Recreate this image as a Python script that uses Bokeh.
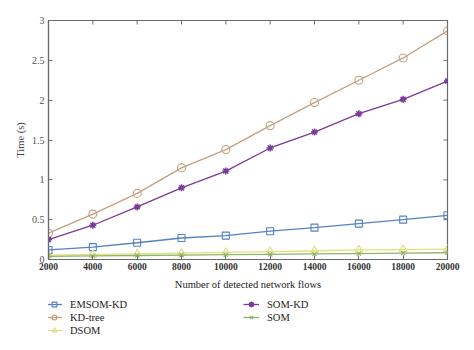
import math
from bokeh.plotting import figure
from bokeh.layouts import column
from bokeh.models import Legend, LegendItem, FixedTicker, Range1d
from bokeh.embed import file_html
from bokeh.resources import INLINE

flows = [2000, 4000, 6000, 8000, 10000, 12000, 14000, 16000, 18000, 20000]
emsom_kd = [0.12, 0.155, 0.21, 0.27, 0.30, 0.355, 0.40, 0.45, 0.50, 0.555]
kd_tree = [0.33, 0.57, 0.83, 1.15, 1.38, 1.68, 1.97, 2.25, 2.53, 2.87]
dsom = [0.055, 0.065, 0.07, 0.08, 0.09, 0.10, 0.11, 0.12, 0.125, 0.13]
som_kd = [0.25, 0.43, 0.66, 0.90, 1.11, 1.40, 1.60, 1.83, 2.01, 2.24]
som = [0.04, 0.045, 0.05, 0.055, 0.06, 0.065, 0.07, 0.075, 0.08, 0.085]

y_ticks = [0, 0.5, 1, 1.5, 2, 2.5, 3]
y_tick_labels = ["0", "0.5", "1", "1.5", "2", "2.5", "3"]
x_ticks = flows
x_min, x_max = 2000, 20000
y_min, y_max = 0, 3

FONT = "Liberation Serif"
FRAME = "#6a6a6a"

p = figure(width=474, height=292, output_backend="svg", toolbar_location=None,
           x_range=Range1d(x_min, x_max), y_range=Range1d(y_min, y_max),
           min_border_left=48, min_border_right=27, min_border_top=20,
           min_border_bottom=33)
p.xgrid.visible = False
p.ygrid.visible = False
p.outline_line_color = FRAME
p.outline_line_width = 1.2
p.background_fill_color = "white"
p.border_fill_color = "white"

def style_axis(ax):
    ax.axis_line_color = FRAME
    ax.axis_line_width = 1.2
    ax.major_tick_in = 4
    ax.major_tick_out = 0
    ax.minor_tick_in = 0
    ax.minor_tick_out = 0
    ax.major_tick_line_color = FRAME
    ax.major_label_text_font = FONT
    ax.major_label_text_color = "#333333"

# bottom axis
xa = p.xaxis[0]
xa.ticker = FixedTicker(ticks=x_ticks)
style_axis(xa)
xa.major_label_text_font_size = "9.5px"
xa.major_label_text_font_style = "bold"
xa.major_label_standoff = 3
xa.axis_label = "Number of detected network flows"
xa.axis_label_text_font = FONT
xa.axis_label_text_font_size = "10.5px"
xa.axis_label_text_font_style = "normal"
xa.axis_label_text_color = "#222222"
xa.axis_label_standoff = 6

# left axis
ya = p.yaxis[0]
ya.ticker = FixedTicker(ticks=y_ticks)
ya.major_label_overrides = {t: l for t, l in zip(y_ticks, y_tick_labels)}
style_axis(ya)
ya.major_label_text_font_size = "10px"
ya.major_label_text_color = "#555555"
ya.major_label_standoff = 4
ya.axis_label = "Time (s)"
ya.axis_label_text_font = FONT
ya.axis_label_text_font_size = "10.5px"
ya.axis_label_text_font_style = "normal"
ya.axis_label_text_color = "#444444"
ya.axis_label_standoff = 3

# inward ticks on top and right edges (dash markers clipped by the frame)
p.scatter(x_ticks, [y_max] * len(x_ticks), marker="dash", size=8, angle=math.pi / 2,
          line_color=FRAME, line_width=1)
p.scatter([x_max] * len(y_ticks), y_ticks, marker="dash", size=8,
          line_color=FRAME, line_width=1)

series = [
    ("EMSOM-KD", emsom_kd, "#5580c4", "square", 7),
    ("KD-tree", kd_tree, "#c4a080", "circle", 8),
    ("DSOM", dsom, "#e0e07c", "triangle", 8),
    ("SOM-KD", som_kd, "#7a3a9c", "asterisk", 7),
    ("SOM", som, "#8fb56c", "x", 6),
]

# legend strip below the chart
p2 = figure(width=474, height=58, output_backend="svg", toolbar_location=None,
            x_range=Range1d(0, 1), y_range=Range1d(0, 1),
            x_axis_location=None, y_axis_location=None,
            min_border_left=0, min_border_right=0, min_border_top=0,
            min_border_bottom=0)
p2.grid.visible = False
p2.outline_line_color = None
p2.border_fill_color = "white"

def draw(fig, vals, color, marker, size):
    rs = [fig.line(flows, vals, line_color=color, line_width=1.3)]
    if marker == "asterisk":
        rs.append(fig.scatter(flows, vals, marker="asterisk", size=size,
                              line_color=color, line_width=1.5))
        rs.append(fig.scatter(flows, vals, marker="circle", size=3,
                              fill_color=color, line_color=color))
    else:
        rs.append(fig.scatter(flows, vals, marker=marker, size=size,
                              line_color=color, fill_color=None, line_width=1.1))
    return rs

items = {}
for name, vals, color, marker, size in series:
    draw(p, vals, color, marker, size)
    # same series in the legend strip; its data lies outside that strip's range
    items[name] = draw(p2, vals, color, marker, size)

def make_legend(names, loc):
    return Legend(items=[LegendItem(label=n, renderers=items[n]) for n in names],
                  orientation="vertical", location=loc,
                  glyph_width=16, glyph_height=12, label_height=12,
                  label_standoff=8, spacing=1,
                  padding=0, margin=0,
                  border_line_color=None, background_fill_alpha=0,
                  label_text_font=FONT, label_text_font_size="10.5px",
                  label_text_color="#222222")

p2.add_layout(make_legend(["EMSOM-KD", "KD-tree", "DSOM"], (-2, 14)), "center")
p2.add_layout(make_legend(["SOM-KD", "SOM"], (195, 27)), "center")

layout = column(p, p2, spacing=0)
open("out.html", "w").write(file_html(layout, INLINE))
